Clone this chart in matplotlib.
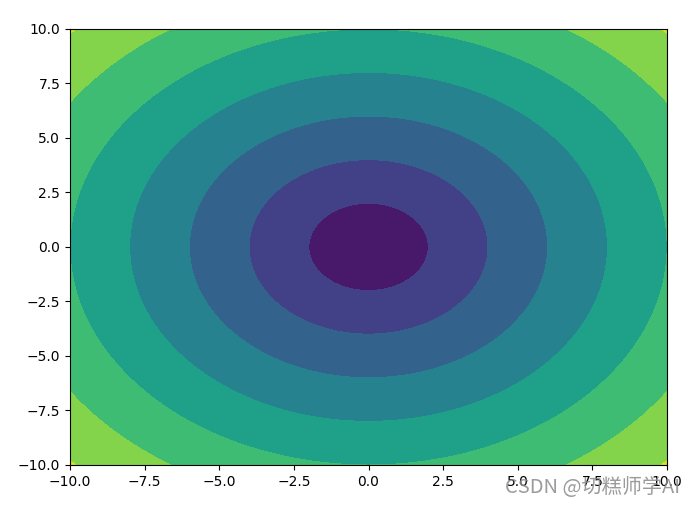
import numpy as np
import matplotlib
matplotlib.use('Agg')
import matplotlib.pyplot as plt

# grid and field: distance from the origin
x = np.linspace(-10, 10, 400)
y = np.linspace(-10, 10, 400)
X, Y = np.meshgrid(x, y)
Z = np.sqrt(X ** 2 + Y ** 2)

fig = plt.figure(figsize=(7, 5.07), dpi=100)
ax = fig.add_axes([0.1, 0.083, 0.853, 0.86])
ax.contourf(X, Y, Z)

# watermark (overlaps the last tick labels, as in the source image)
fig.text(0.722, 0.027, 'CSDN @切糕师学AI', fontsize=14.5, color='#8a8a8a', alpha=0.85,
         family=['Noto Sans CJK SC', 'DejaVu Sans'])

plt.savefig('out.png', dpi=100)
